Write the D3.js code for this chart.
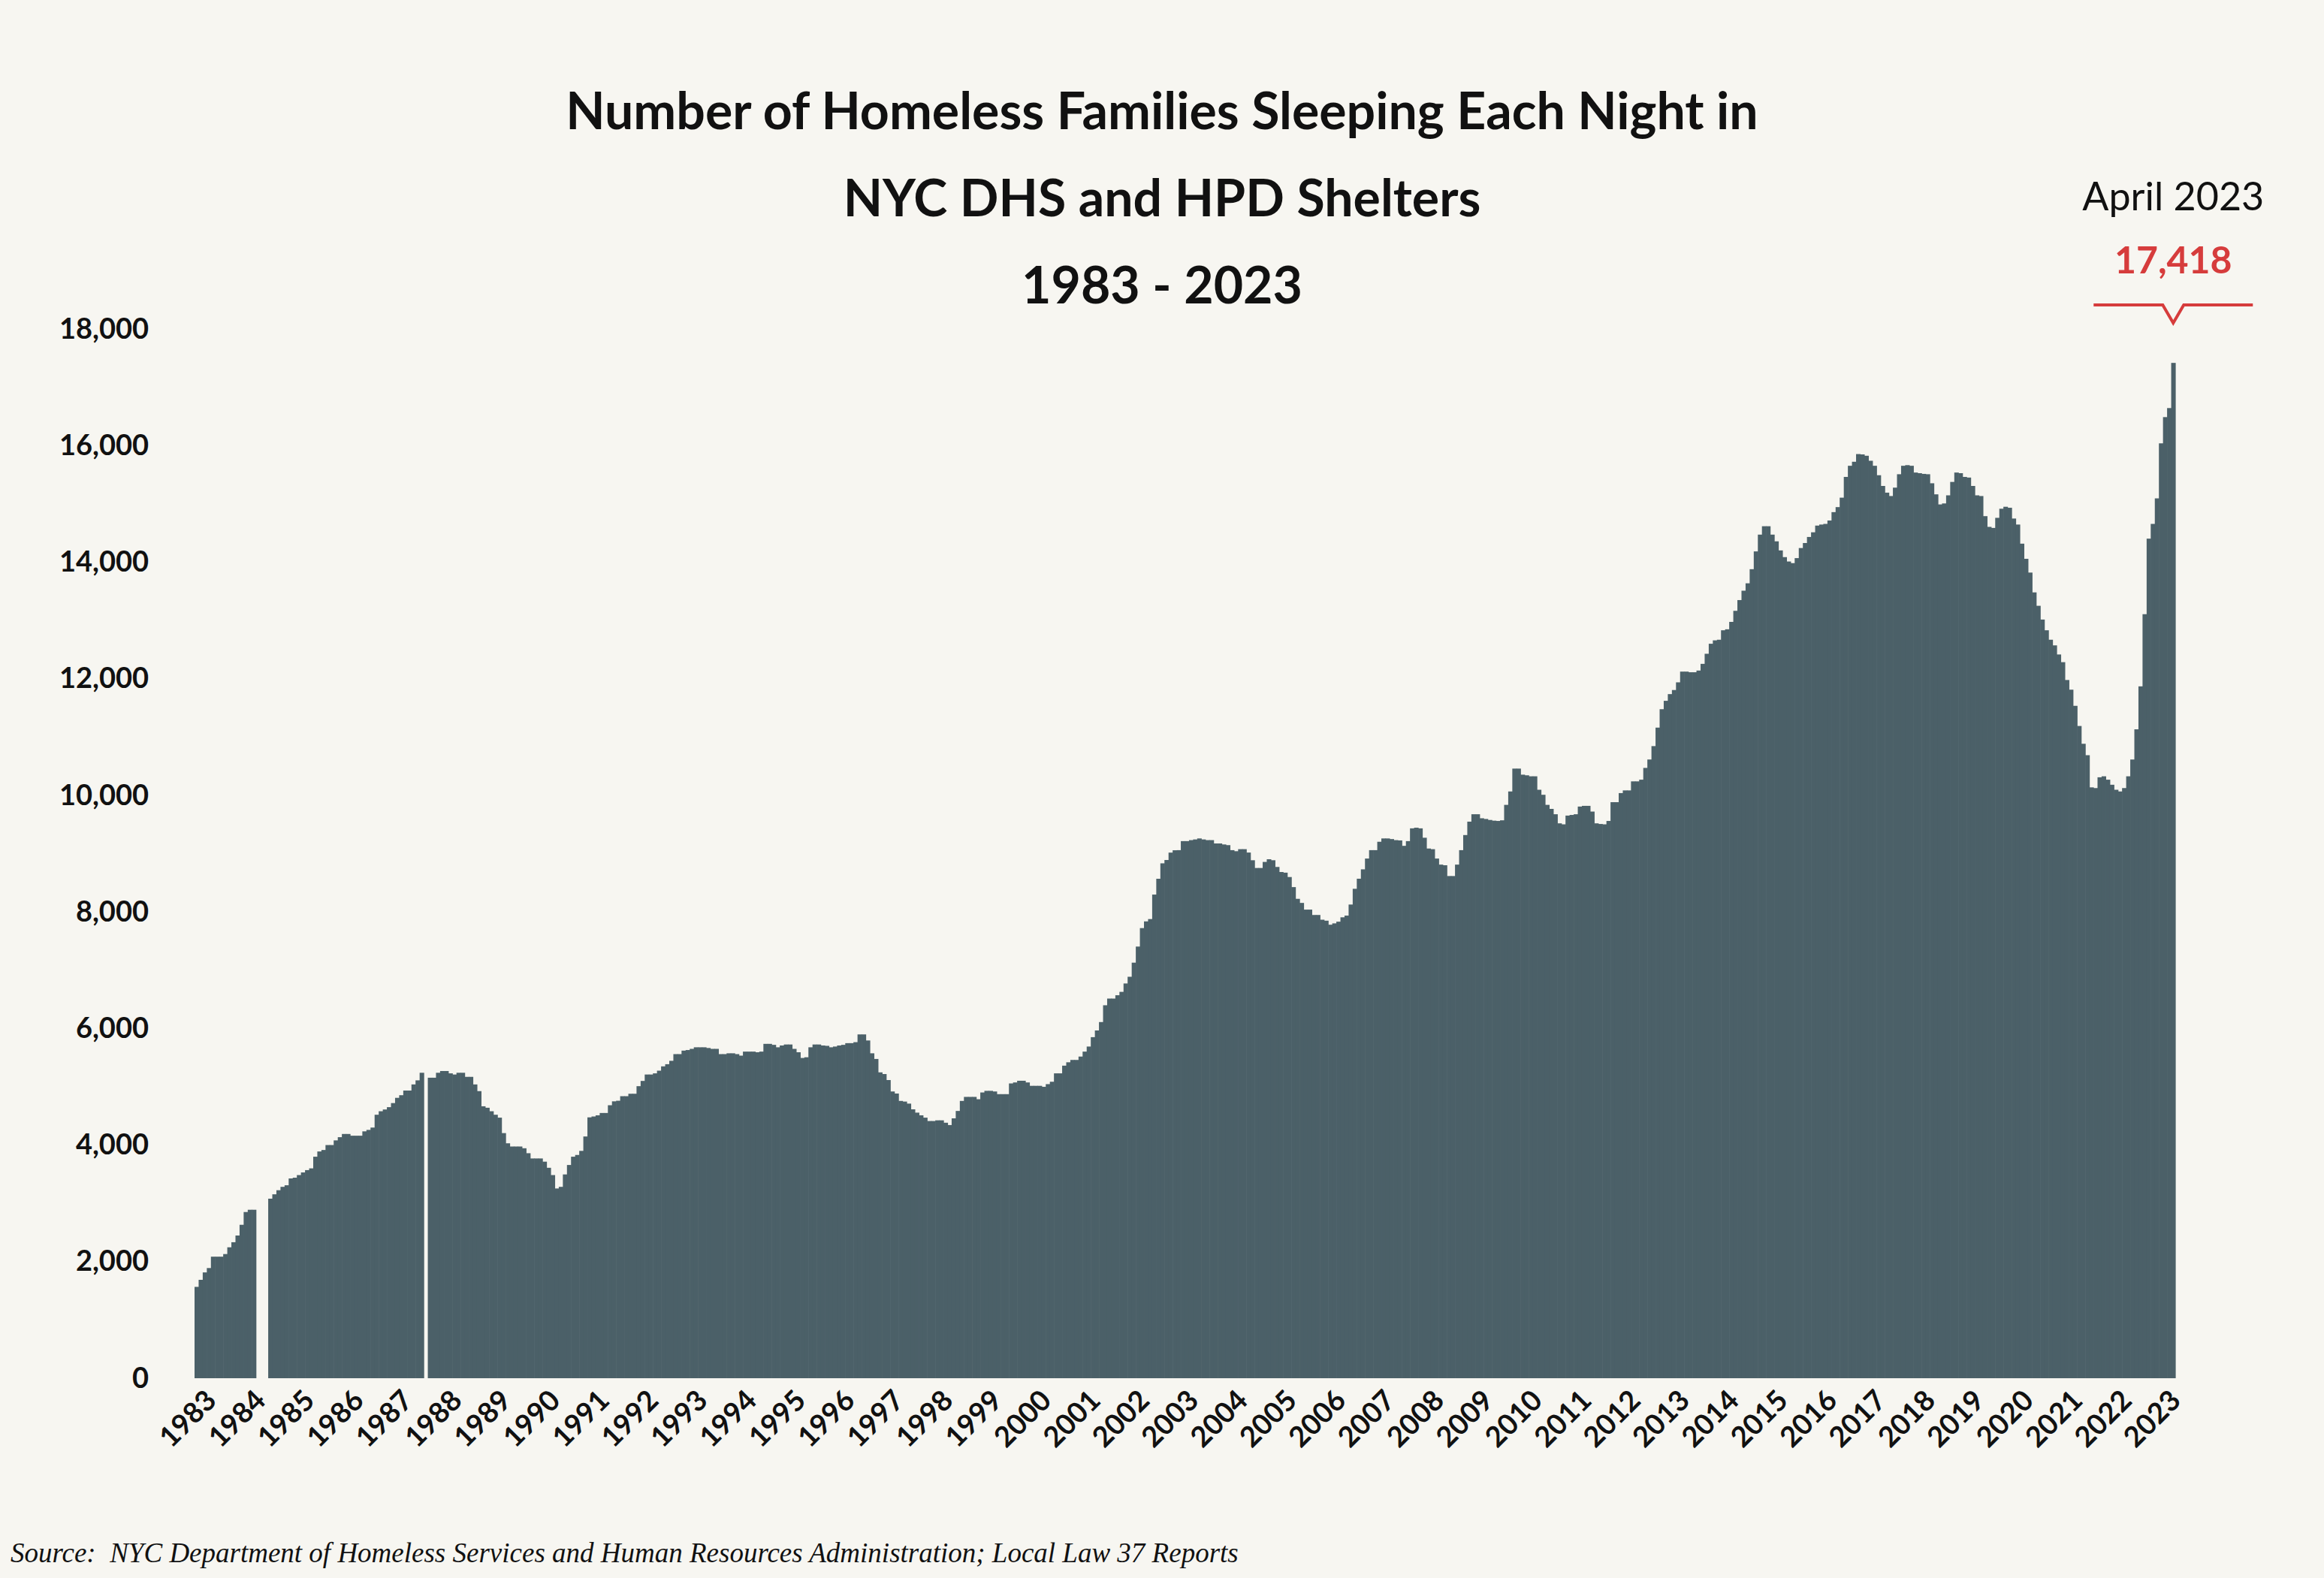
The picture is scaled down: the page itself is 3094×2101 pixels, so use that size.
<!DOCTYPE html>
<html>
<head>
<meta charset="utf-8">
<script src="https://cdn.jsdelivr.net/npm/d3@7"></script>
<style>
  body { margin: 0; background: #f7f6f1; }
</style>
</head>
<body>
<script>
// monthly families in shelter, one array per year (null = no report)
const y1983 = [1567,1688,1815,1890,2085,2085,2085,2130,2246,2333,2448,2632];
const y1984 = [2851,2890,2890,null,null,null,3080,3155,3225,3283,3310,3427];
const y1985 = [3440,3485,3530,3570,3600,3800,3890,3915,4000,4000,4080,4135];
const y1986 = [4190,4190,4160,4160,4160,4235,4260,4300,4520,4580,4610,4650];
const y1987 = [4720,4810,4855,4935,4935,5040,5110,5240,null,5155,5155,5240];
const y1988 = [5270,5270,5230,5210,5240,5240,5170,5170,5040,4925,4665,4640];
const y1989 = [4580,4520,4470,4205,4030,3975,3975,3975,3945,3860,3770,3770];
const y1990 = [3770,3715,3610,3485,3255,3283,3496,3658,3800,3830,3900,4147];
const y1991 = [4475,4490,4510,4550,4550,4683,4750,4760,4838,4838,4880,4880];
const y1992 = [5010,5100,5210,5210,5230,5276,5350,5387,5445,5560,5560,5620];
const y1993 = [5630,5650,5677,5677,5677,5665,5650,5650,5560,5560,5574,5574];
const y1994 = [5560,5534,5603,5603,5603,5592,5603,5736,5736,5719,5677,5708];
const y1995 = [5725,5725,5650,5592,5494,5506,5677,5725,5725,5708,5702,5677];
const y1996 = [5690,5708,5719,5748,5748,5765,5898,5898,5794,5574,5477,5247];
const y1997 = [5218,5115,4919,4884,4757,4746,4711,4613,4556,4510,4470,4412];
const y1998 = [4412,4424,4424,4383,4343,4458,4585,4757,4826,4826,4826,4786];
const y1999 = [4902,4930,4930,4919,4873,4873,4873,5057,5074,5103,5103,5074];
const y2000 = [5016,5016,5016,4999,5045,5086,5230,5230,5362,5420,5460,5460];
const y2001 = [5518,5603,5690,5851,5966,6110,6398,6513,6513,6570,6628,6772];
const y2002 = [6887,7129,7405,7722,7837,7877,8297,8568,8833,8890,9017,9057];
const y2003 = [9059,9214,9214,9231,9243,9260,9243,9231,9231,9174,9174,9157];
const y2004 = [9145,9059,9041,9076,9076,9018,8886,8753,8753,8857,8903,8886];
const y2005 = [8771,8684,8673,8598,8425,8224,8154,8039,8039,7947,7947,7866];
const y2006 = [7849,7780,7803,7832,7907,7936,8126,8396,8569,8730,8915,9059];
const y2007 = [9059,9203,9260,9260,9249,9231,9226,9133,9214,9433,9444,9433];
const y2008 = [9272,9087,9076,8915,8811,8800,8615,8615,8811,9059,9318,9548];
const y2009 = [9675,9675,9606,9594,9577,9565,9560,9571,9836,10066,10458,10458];
const y2010 = [10354,10343,10326,10326,10095,10009,9836,9767,9675,9519,9502,9652];
const y2011 = [9663,9675,9807,9819,9819,9721,9519,9508,9502,9560,9882,9882];
const y2012 = [10038,10084,10084,10239,10239,10268,10470,10614,10844,11161,11477,11621];
const y2013 = [11736,11806,11938,12122,12122,12111,12111,12140,12255,12428,12600,12658];
const y2014 = [12669,12831,12848,12975,13165,13349,13510,13637,13879,14184,14472,14616];
const y2015 = [14616,14472,14357,14201,14086,14011,13983,14069,14242,14328,14432,14512];
const y2016 = [14627,14645,14656,14714,14858,14944,15106,15462,15653,15722,15854,15848];
const y2017 = [15825,15739,15653,15491,15307,15192,15134,15278,15508,15653,15664,15653];
const y2018 = [15537,15526,15514,15508,15353,15163,14990,15007,15146,15376,15537,15526];
const y2019 = [15462,15451,15307,15146,15134,14789,14605,14587,14760,14916,14950,14933];
const y2020 = [14748,14645,14317,14057,13821,13481,13251,13015,12831,12669,12572,12416];
const y2021 = [12284,11978,11812,11535,11189,10884,10688,10136,10124,10309,10326,10268];
const y2022 = [10181,10095,10066,10124,10326,10614,11132,11869,13107,14403,14656,15094];
const y2023 = [16038,16488,16643,17418];

const years = d3.range(1983, 2024);
const yearData = [y1983,y1984,y1985,y1986,y1987,y1988,y1989,y1990,y1991,y1992,y1993,y1994,
  y1995,y1996,y1997,y1998,y1999,y2000,y2001,y2002,y2003,y2004,y2005,y2006,y2007,y2008,
  y2009,y2010,y2011,y2012,y2013,y2014,y2015,y2016,y2017,y2018,y2019,y2020,y2021,y2022,y2023];
const yTicks = d3.range(0, 18001, 2000);

const data = [];
yearData.forEach((arr, i) => arr.forEach((v, m) => data.push({key: years[i] + '-' + m, year: years[i], m: m, v: v})));

const W = 3094, H = 2101;
const svg = d3.select('body').append('svg').attr('width', W).attr('height', H)
  .style('background', '#f7f6f1');

const x = d3.scaleBand().domain(data.map(d => d.key)).range([259, 2896]).padding(0);
const y = d3.scaleLinear().domain([0, 18000]).range([1835, 438]);

svg.append('g').selectAll('rect')
  .data(data.filter(d => d.v != null))
  .enter().append('rect')
  .attr('x', d => x(d.key))
  .attr('width', x.bandwidth() + 0.6)
  .attr('y', d => y(d.v))
  .attr('height', d => y(0) - y(d.v))
  .style('fill', '#4b6068');

// y axis labels
const yAxis = svg.append('g').attr('transform', 'translate(198,0)')
  .call(d3.axisLeft(y).tickValues(yTicks).tickFormat(d3.format(',')).tickSize(0).tickPadding(0));
yAxis.select('.domain').remove();
yAxis.selectAll('text').style('font-family', 'Lato').style('font-weight', 'bold')
  .style('font-size', '38px').style('fill', '#111');

// x axis labels at January of each year
const xAxis = svg.append('g').attr('transform', 'translate(0,1858)')
  .call(d3.axisBottom(x).tickValues(years.map(yr => yr + '-0')).tickFormat(k => k.split('-')[0])
    .tickSize(0).tickPadding(0));
xAxis.select('.domain').remove();
xAxis.selectAll('text')
  .attr('text-anchor', 'end').attr('dy', '0.7em')
  .attr('transform', 'rotate(-45) translate(14,0)')
  .style('font-family', 'Lato').style('font-weight', 'bold')
  .style('font-size', '38px').style('fill', '#111');

// title
const title = ['Number of Homeless Families Sleeping Each Night in', 'NYC DHS and HPD Shelters', '1983 - 2023'];
svg.append('g').selectAll('text').data(title).enter().append('text')
  .attr('x', 1547).attr('y', (d, i) => 172 + i * 116)
  .attr('text-anchor', 'middle')
  .style('font-family', 'Lato').style('font-weight', 'bold').style('font-size', '68px')
  .style('fill', '#111').text(d => d);

// annotation for the latest month
const last = data[data.length - 1];
const ax = x(last.key) + x.bandwidth() / 2;
svg.append('text').attr('x', ax).attr('y', 280).attr('text-anchor', 'middle')
  .style('font-family', 'Lato').style('font-size', '52px').style('fill', '#111')
  .text('April 2023');
svg.append('text').attr('x', ax).attr('y', 364).attr('text-anchor', 'middle')
  .style('font-family', 'Lato').style('font-weight', 'bold').style('font-size', '50px')
  .style('fill', '#d63c3c').text(d3.format(',')(last.v));
svg.append('path')
  .attr('d', `M${ax - 106},406 H${ax - 14} L${ax},430 L${ax + 14},406 H${ax + 106}`)
  .style('fill', 'none').style('stroke', '#d63c3c').style('stroke-width', 4);

// source
svg.append('text').attr('x', 14).attr('y', 2080)
  .style('font-family', 'Liberation Serif').style('font-style', 'italic').style('font-size', '37px')
  .style('fill', '#111').style('white-space', 'pre')
  .text('Source:  NYC Department of Homeless Services and Human Resources Administration; Local Law 37 Reports');
</script>
</body>
</html>
